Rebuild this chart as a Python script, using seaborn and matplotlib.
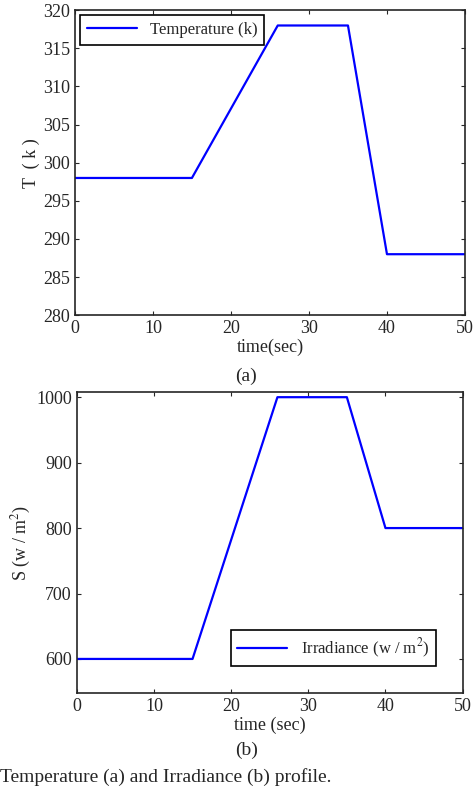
import matplotlib
matplotlib.use("Agg")
import matplotlib.pyplot as plt
import seaborn as sns
import pandas as pd

# temperature profile
t_time = [0, 15, 26, 35, 40, 50]
t_vals = [298, 298, 318, 318, 288, 288]
t_ticks = [280, 285, 290, 295, 300, 305, 310, 315, 320]

# irradiance profile
s_time = [0, 15, 26, 35, 40, 50]
s_vals = [600, 600, 1000, 1000, 800, 800]
s_ticks = [600, 700, 800, 900, 1000]

x_ticks = [0, 10, 20, 30, 40, 50]

sns.set_style("ticks")
plt.rcParams['font.family'] = ['Liberation Serif', 'DejaVu Serif']
plt.rcParams['mathtext.fontset'] = 'stix'
plt.rcParams['font.size'] = 12

df_t = pd.DataFrame({"time": t_time, "T": t_vals})
df_s = pd.DataFrame({"time": s_time, "S": s_vals})

fig = plt.figure(figsize=(4.74, 7.88), dpi=100)
ax1 = fig.add_axes([0.158, 0.600, 0.823, 0.387])
ax2 = fig.add_axes([0.162, 0.1206, 0.814, 0.382])

sns.lineplot(data=df_t, x="time", y="T", ax=ax1, color="#0000ff", lw=1.6,
             label="Temperature (k)")
sns.lineplot(data=df_s, x="time", y="S", ax=ax2, color="#0000ff", lw=1.6,
             label=r"Irradiance (w / m$^2$)")

ax1.set_xlim(0, 50)
ax1.set_ylim(280, 320)
ax1.set_yticks(t_ticks)
ax1.set_xlabel("time(sec)", labelpad=1, fontsize=13)
ax1.set_ylabel("T  ( k )", labelpad=2, fontsize=13)

ax2.set_xlim(0, 50)
ax2.set_ylim(548, 1008)
ax2.set_yticks(s_ticks)
ax2.set_xlabel("time (sec)", labelpad=1, fontsize=13)
ax2.set_ylabel(r"S (w / m$^2$)", labelpad=2, fontsize=13)

for ax in (ax1, ax2):
    ax.set_xticks(x_ticks)
    ax.tick_params(direction="in", top=True, right=True, length=3, labelsize=13)
    for sp in ax.spines.values():
        sp.set_linewidth(1.2)

leg1 = ax1.legend(loc="upper left", fancybox=False, edgecolor="black",
                  framealpha=1, fontsize=12, borderaxespad=0.3, handlelength=3.0)
leg2 = ax2.legend(loc="lower right", fancybox=False, edgecolor="black",
                  framealpha=1, fontsize=12, borderaxespad=1.6, handlelength=3.0)
for leg in (leg1, leg2):
    leg.get_frame().set_linewidth(1.2)

fig.text(0.52, 0.522, "(a)", ha="center", va="center", fontsize=14)
fig.text(0.52, 0.048, "(b)", ha="center", va="center", fontsize=14)
fig.text(0.0, 0.014, "Temperature (a) and Irradiance (b) profile.", ha="left",
         va="center", fontsize=14)

fig.savefig("out.png", dpi=100)
